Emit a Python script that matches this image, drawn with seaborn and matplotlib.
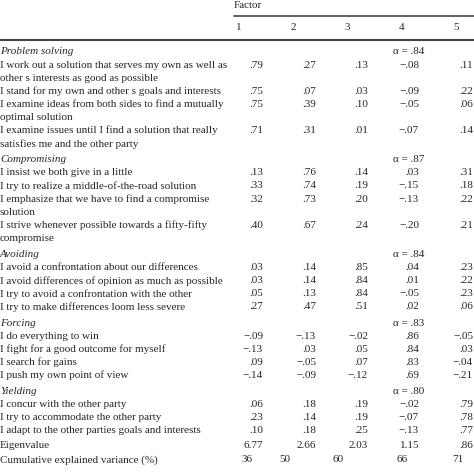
import numpy as np
import matplotlib.pyplot as plt
import seaborn as sns

sns.set_style("white")
plt.rcParams['font.family'] = ['Liberation Serif', 'DejaVu Serif']

factors = ['1', '2', '3', '4', '5']
scales = ['Problem solving', 'Compromising', 'Avoiding', 'Forcing', 'Yielding']
alphas = ['.84', '.87', '.84', '.83', '.80']
items = [
    [['I work out a solution that serves my own as well as', 'other s interests as good as possible'],
     ['I stand for my own and other s goals and interests'],
     ['I examine ideas from both sides to find a mutually', 'optimal solution'],
     ['I examine issues until I find a solution that really', 'satisfies me and the other party']],
    [['I insist we both give in a little'],
     ['I try to realize a middle-of-the-road solution'],
     ['I emphasize that we have to find a compromise', 'solution'],
     ['I strive whenever possible towards a fifty-fifty', 'compromise']],
    [['I avoid a confrontation about our differences'],
     ['I avoid differences of opinion as much as possible'],
     ['I try to avoid a confrontation with the other'],
     ['I try to make differences loom less severe']],
    [['I do everything to win'],
     ['I fight for a good outcome for myself'],
     ['I search for gains'],
     ['I push my own point of view']],
    [['I concur with the other party'],
     ['I try to accommodate the other party'],
     ['I adapt to the other parties goals and interests']],
]
loadings = [
    [[.79, .27, .13, -.08, .11], [.75, .07, .03, -.09, .22],
     [.75, .39, .10, -.05, .06], [.71, .31, .01, -.07, .14]],
    [[.13, .76, .14, .03, .31], [.33, .74, .19, -.15, .18],
     [.32, .73, .20, -.13, .22], [.40, .67, .24, -.20, .21]],
    [[.03, .14, .85, .04, .23], [.03, .14, .84, .01, .22],
     [.05, .13, .84, -.05, .23], [.27, .47, .51, .02, .06]],
    [[-.09, -.13, -.02, .86, -.05], [-.13, .03, .05, .84, .03],
     [.09, -.05, .07, .83, -.04], [-.14, -.09, -.12, .69, -.21]],
    [[.06, .18, .19, -.02, .79], [.23, .14, .19, -.07, .78],
     [.10, .18, .25, -.13, .77]],
]
eigen = ['6.77', '2.66', '2.03', '1.15', '.86']
cumvar = ['36', '50', '60', '66', '71']

def fmt(v):
    s = f"{abs(v):.2f}".lstrip('0')
    return ('\u2212' if v < 0 else '') + s

fig = plt.figure(figsize=(4.74, 4.72), dpi=100)
ax = fig.add_axes([0, 0, 1, 1])
ax.set_xlim(0, 474)
ax.set_ylim(472, 0)
ax.axis('off')

fs = 8.0
colx = [263, 316, 368, 419, 473]
headx = [236, 291, 345, 399, 453]

ax.text(234, 6, 'Factor', fontsize=fs, va='center')
ax.plot([234, 474], [16, 16], color='#444', lw=1.2)
for x, f in zip(headx, factors):
    ax.text(x, 28, f, fontsize=fs, va='center')
ax.plot([0, 474], [40, 40], color='#444', lw=1.5)

y = 52
step = 13.1
for s, a, its, lds in zip(scales, alphas, items, loadings):
    ax.text(0, y, s, fontsize=fs, style='italic', va='center')
    ax.text(393, y, '\u03b1 = ' + a, fontsize=fs, va='center')
    y += step
    for lines, row in zip(its, lds):
        ax.text(0, y, lines[0], fontsize=fs, va='center')
        for x, v in zip(colx, row):
            ax.text(x, y, fmt(v), fontsize=fs, va='center', ha='right')
        y += step
        for extra in lines[1:]:
            ax.text(0, y, extra, fontsize=fs, va='center')
            y += step
    y += 3

ax.text(0, 446, 'Eigenvalue', fontsize=fs, va='center')
for x, v in zip(colx, eigen):
    ax.text(x, 446, v, fontsize=fs, va='center', ha='right')
ax.text(0, 460, 'Cumulative explained variance (%)', fontsize=fs, va='center')
for x, v in zip([242, 279, 333, 397, 452], cumvar):
    ax.text(x, 460, v, fontsize=fs, va='center')

fig.savefig('out.png', dpi=100)
